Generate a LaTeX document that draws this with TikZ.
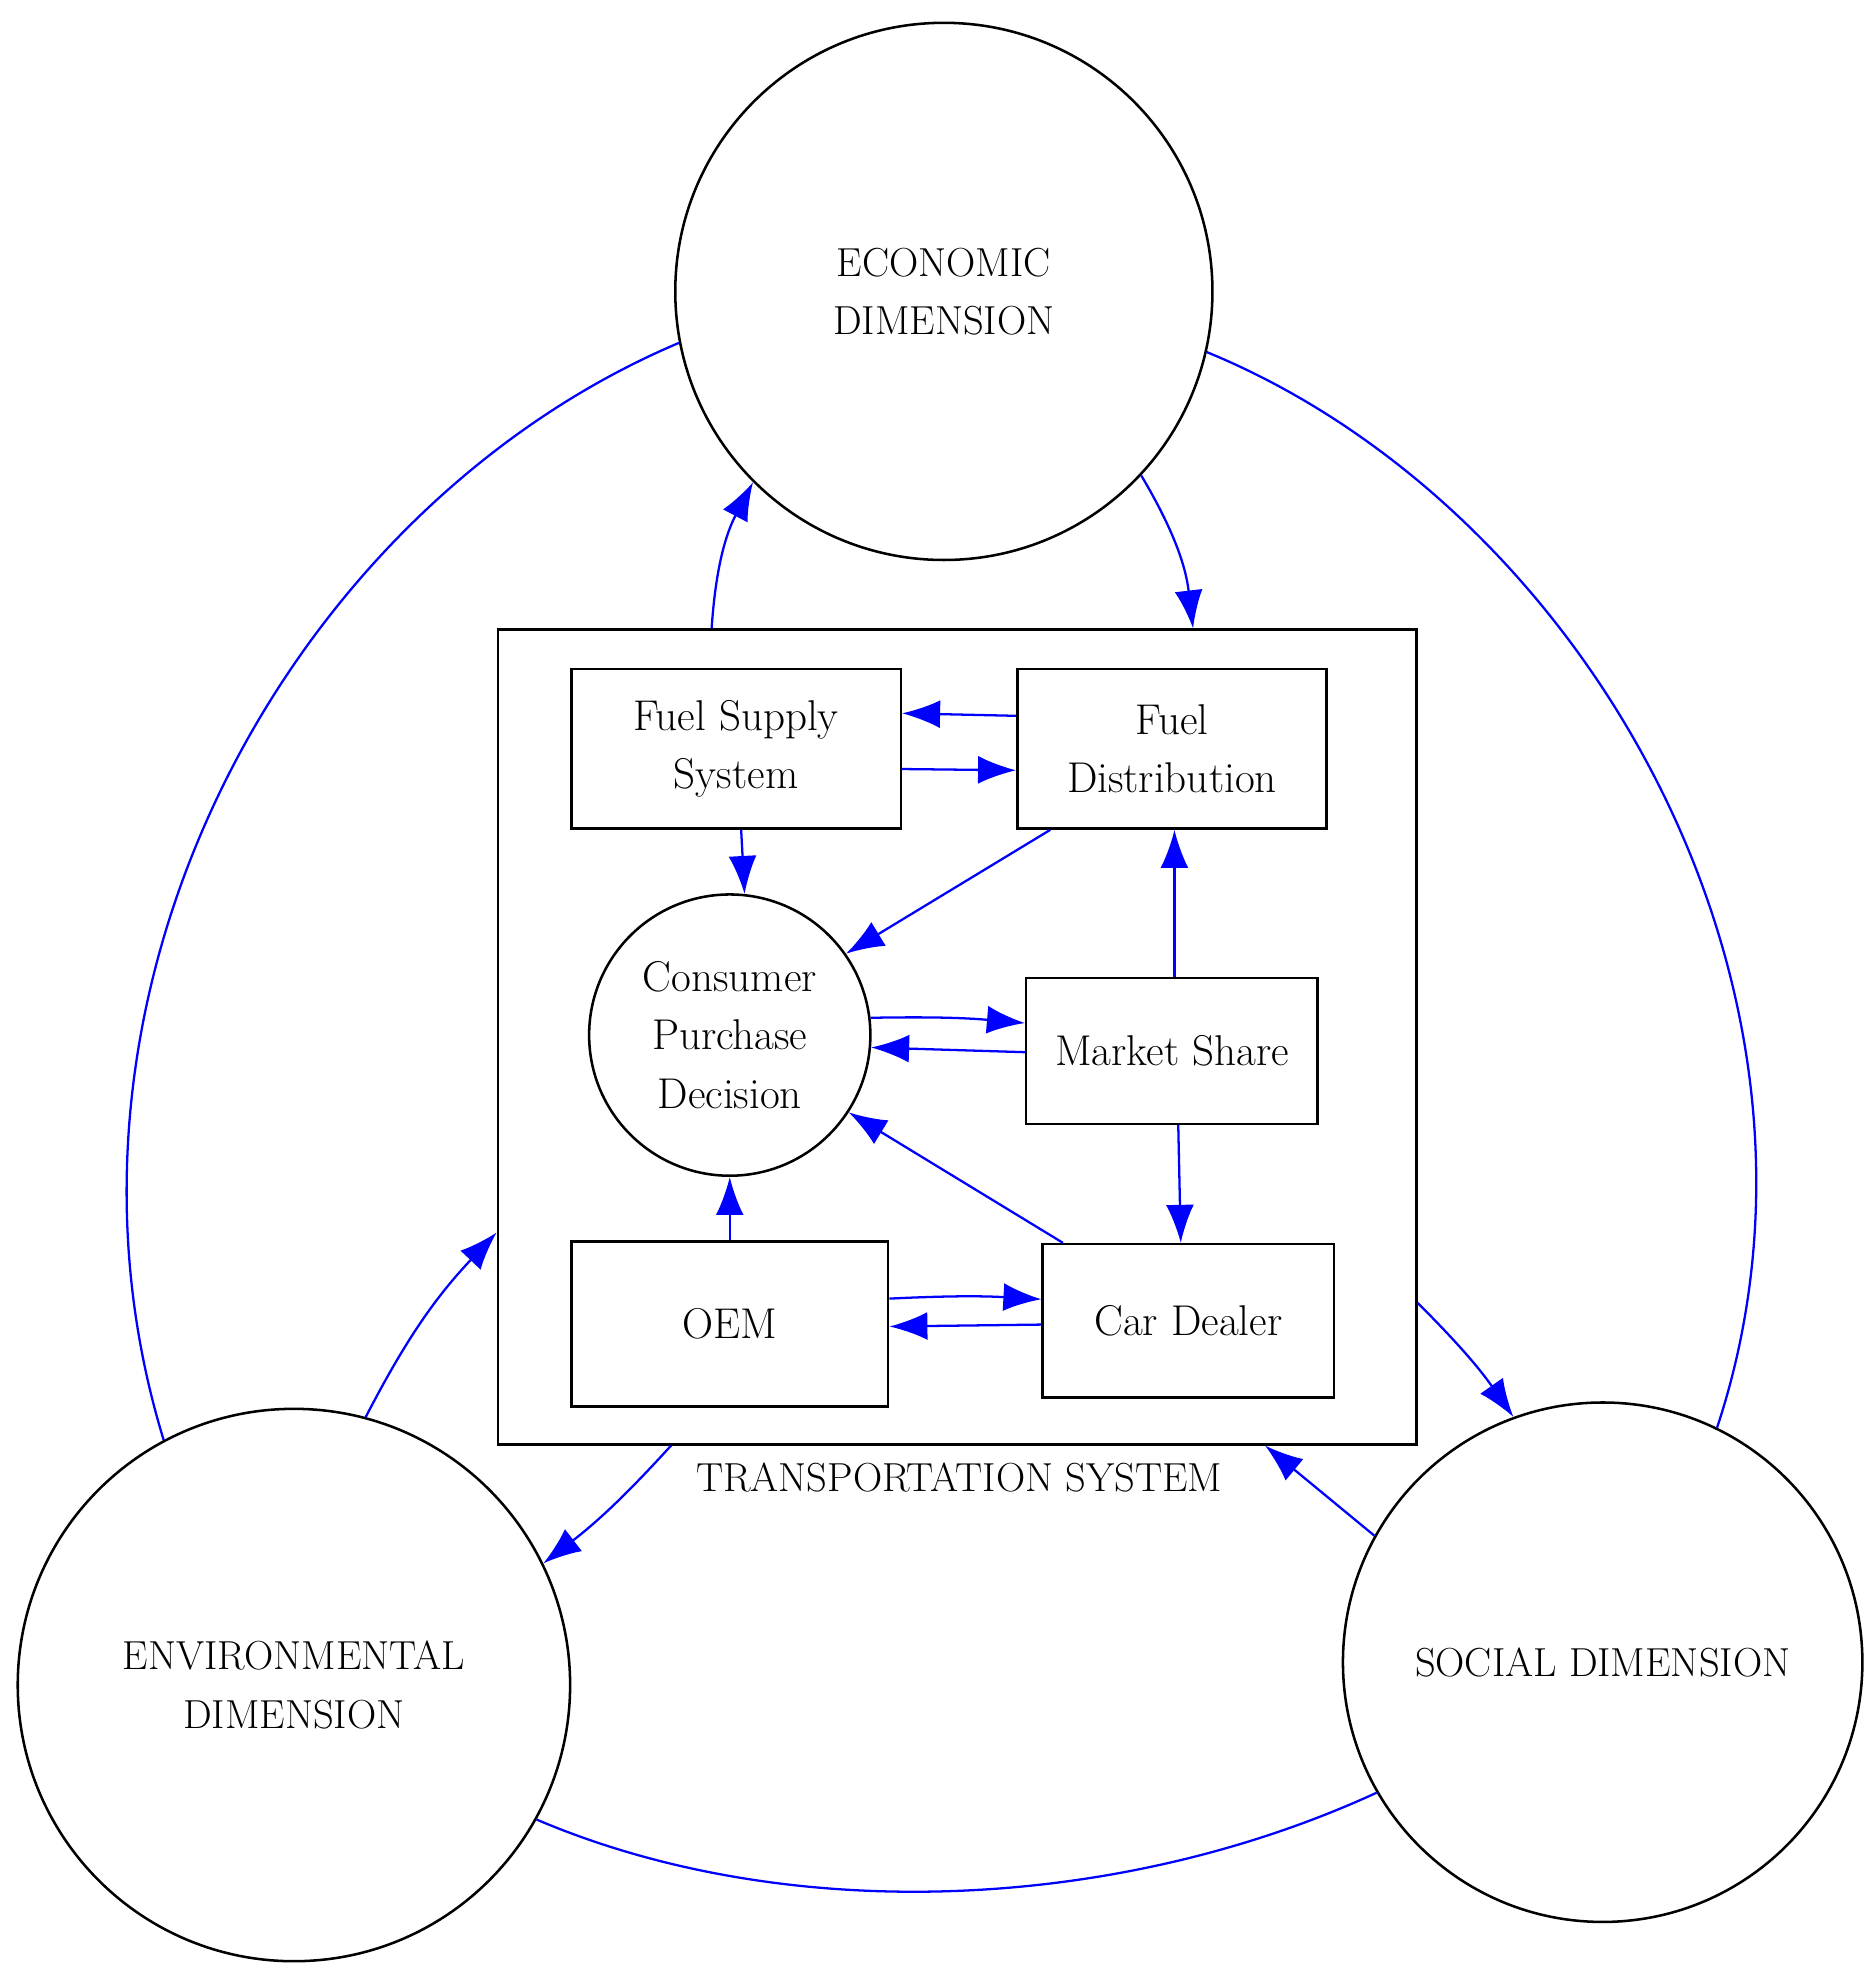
\documentclass[tikz,border=0pt]{standalone}
\usetikzlibrary{arrows.meta,calc}
\begin{document}
\begin{tikzpicture}[x=1pt,y=-1pt,
  dim/.style={circle,draw,line width=2pt,minimum size=#1,inner sep=0pt,align=center,font=\fontsize{32}{46}\selectfont},
  box/.style={draw,line width=2pt,inner sep=0pt,align=center,font=\fontsize{34}{46}\selectfont},
  arr/.style={draw=blue,line width=1.8pt,-{Latex[length=30pt,width=22pt,fill=blue]}},
  link/.style={draw=blue,line width=1.8pt}]
\useasboundingbox (0,0) rectangle (1480,1566);
\node[dim=424pt] (econ) at (745,230) {ECONOMIC\\DIMENSION};
\node[dim=436pt] (env) at (232,1330) {ENVIRONMENTAL\\DIMENSION};
\node[dim=410pt] (soc) at (1265,1312) {SOCIAL DIMENSION};
\node[draw,line width=2pt,minimum width=725pt,minimum height=643pt] (ts) at (755.5,818.5) {};
\node[font=\fontsize{32}{34}\selectfont] (tsl) at (757,1166) {TRANSPORTATION SYSTEM};
\node[box,minimum width=260pt,minimum height=126pt] (fs) at (581,591) {Fuel Supply\\System};
\node[box,minimum width=244pt,minimum height=126pt] (fd) at (925,591) {Fuel\\Distribution};
\node[dim=222pt,font=\fontsize{34}{46}\selectfont] (cpd) at (576,817) {Consumer\\Purchase\\Decision};
\node[box,minimum width=230pt,minimum height=115pt] (ms) at (925,829.5) {Market Share};
\node[box,minimum width=250pt,minimum height=130pt] (oem) at (576,1045) {OEM};
\node[box,minimum width=230pt,minimum height=121pt] (cd) at (938,1042.5) {Car Dealer};
% outer ring
\draw[link] (econ.191) .. controls (230,400) and (20,780) .. (env.118.4);
\draw[link] (econ.347) .. controls (1250,400) and (1470,780) .. (soc.64);
\draw[link] (env.331.5) .. controls (620,1520) and (880,1510) .. (soc.210.5);
% dimension arrows
\draw[arr] (ts.121.3) to[bend left=12] (econ.225);
\draw[arr] (econ.317.5) to[bend left=12] (ts.60.1);
\draw[arr] (env.75.4) to[bend left=8] (ts.203.3);
\draw[arr] (ts.235.9) to[bend left=5] (env.26.6);
\draw[arr] (soc.151) to (ts.307);
\draw[arr] (ts.330.3) to[bend left=5] (soc.110.6);
% inner arrows
\draw[arr] ([yshift=26pt]fd.west) to ([yshift=28pt]fs.east);
\draw[arr] ([yshift=-16pt]fs.east) to ([yshift=-17pt]fd.west);
\draw[arr] ([xshift=4pt]fs.south) to (cpd.84);
\draw[arr] ([xshift=27pt]fd.south west) to (cpd.35);
\draw[arr] ([xshift=2pt]ms.north) to ([xshift=2pt]fd.south);
\draw[arr] (cpd.7) to[bend left=3] ([yshift=22pt]ms.west);
\draw[arr] ([yshift=-1pt]ms.west) to (cpd.-5);
\draw[arr] ([xshift=5pt]ms.south) to ([xshift=-6pt]cd.north);
\draw[arr] ([xshift=17pt]cd.north west) to (cpd.-33);
\draw[arr] (oem.north) to (cpd.south);
\draw[arr] ([yshift=20pt]oem.east) to[bend left=3] ([yshift=17pt]cd.west);
\draw[arr] ([yshift=-3pt]cd.west) to ([yshift=-2pt]oem.east);
\end{tikzpicture}
\end{document}
